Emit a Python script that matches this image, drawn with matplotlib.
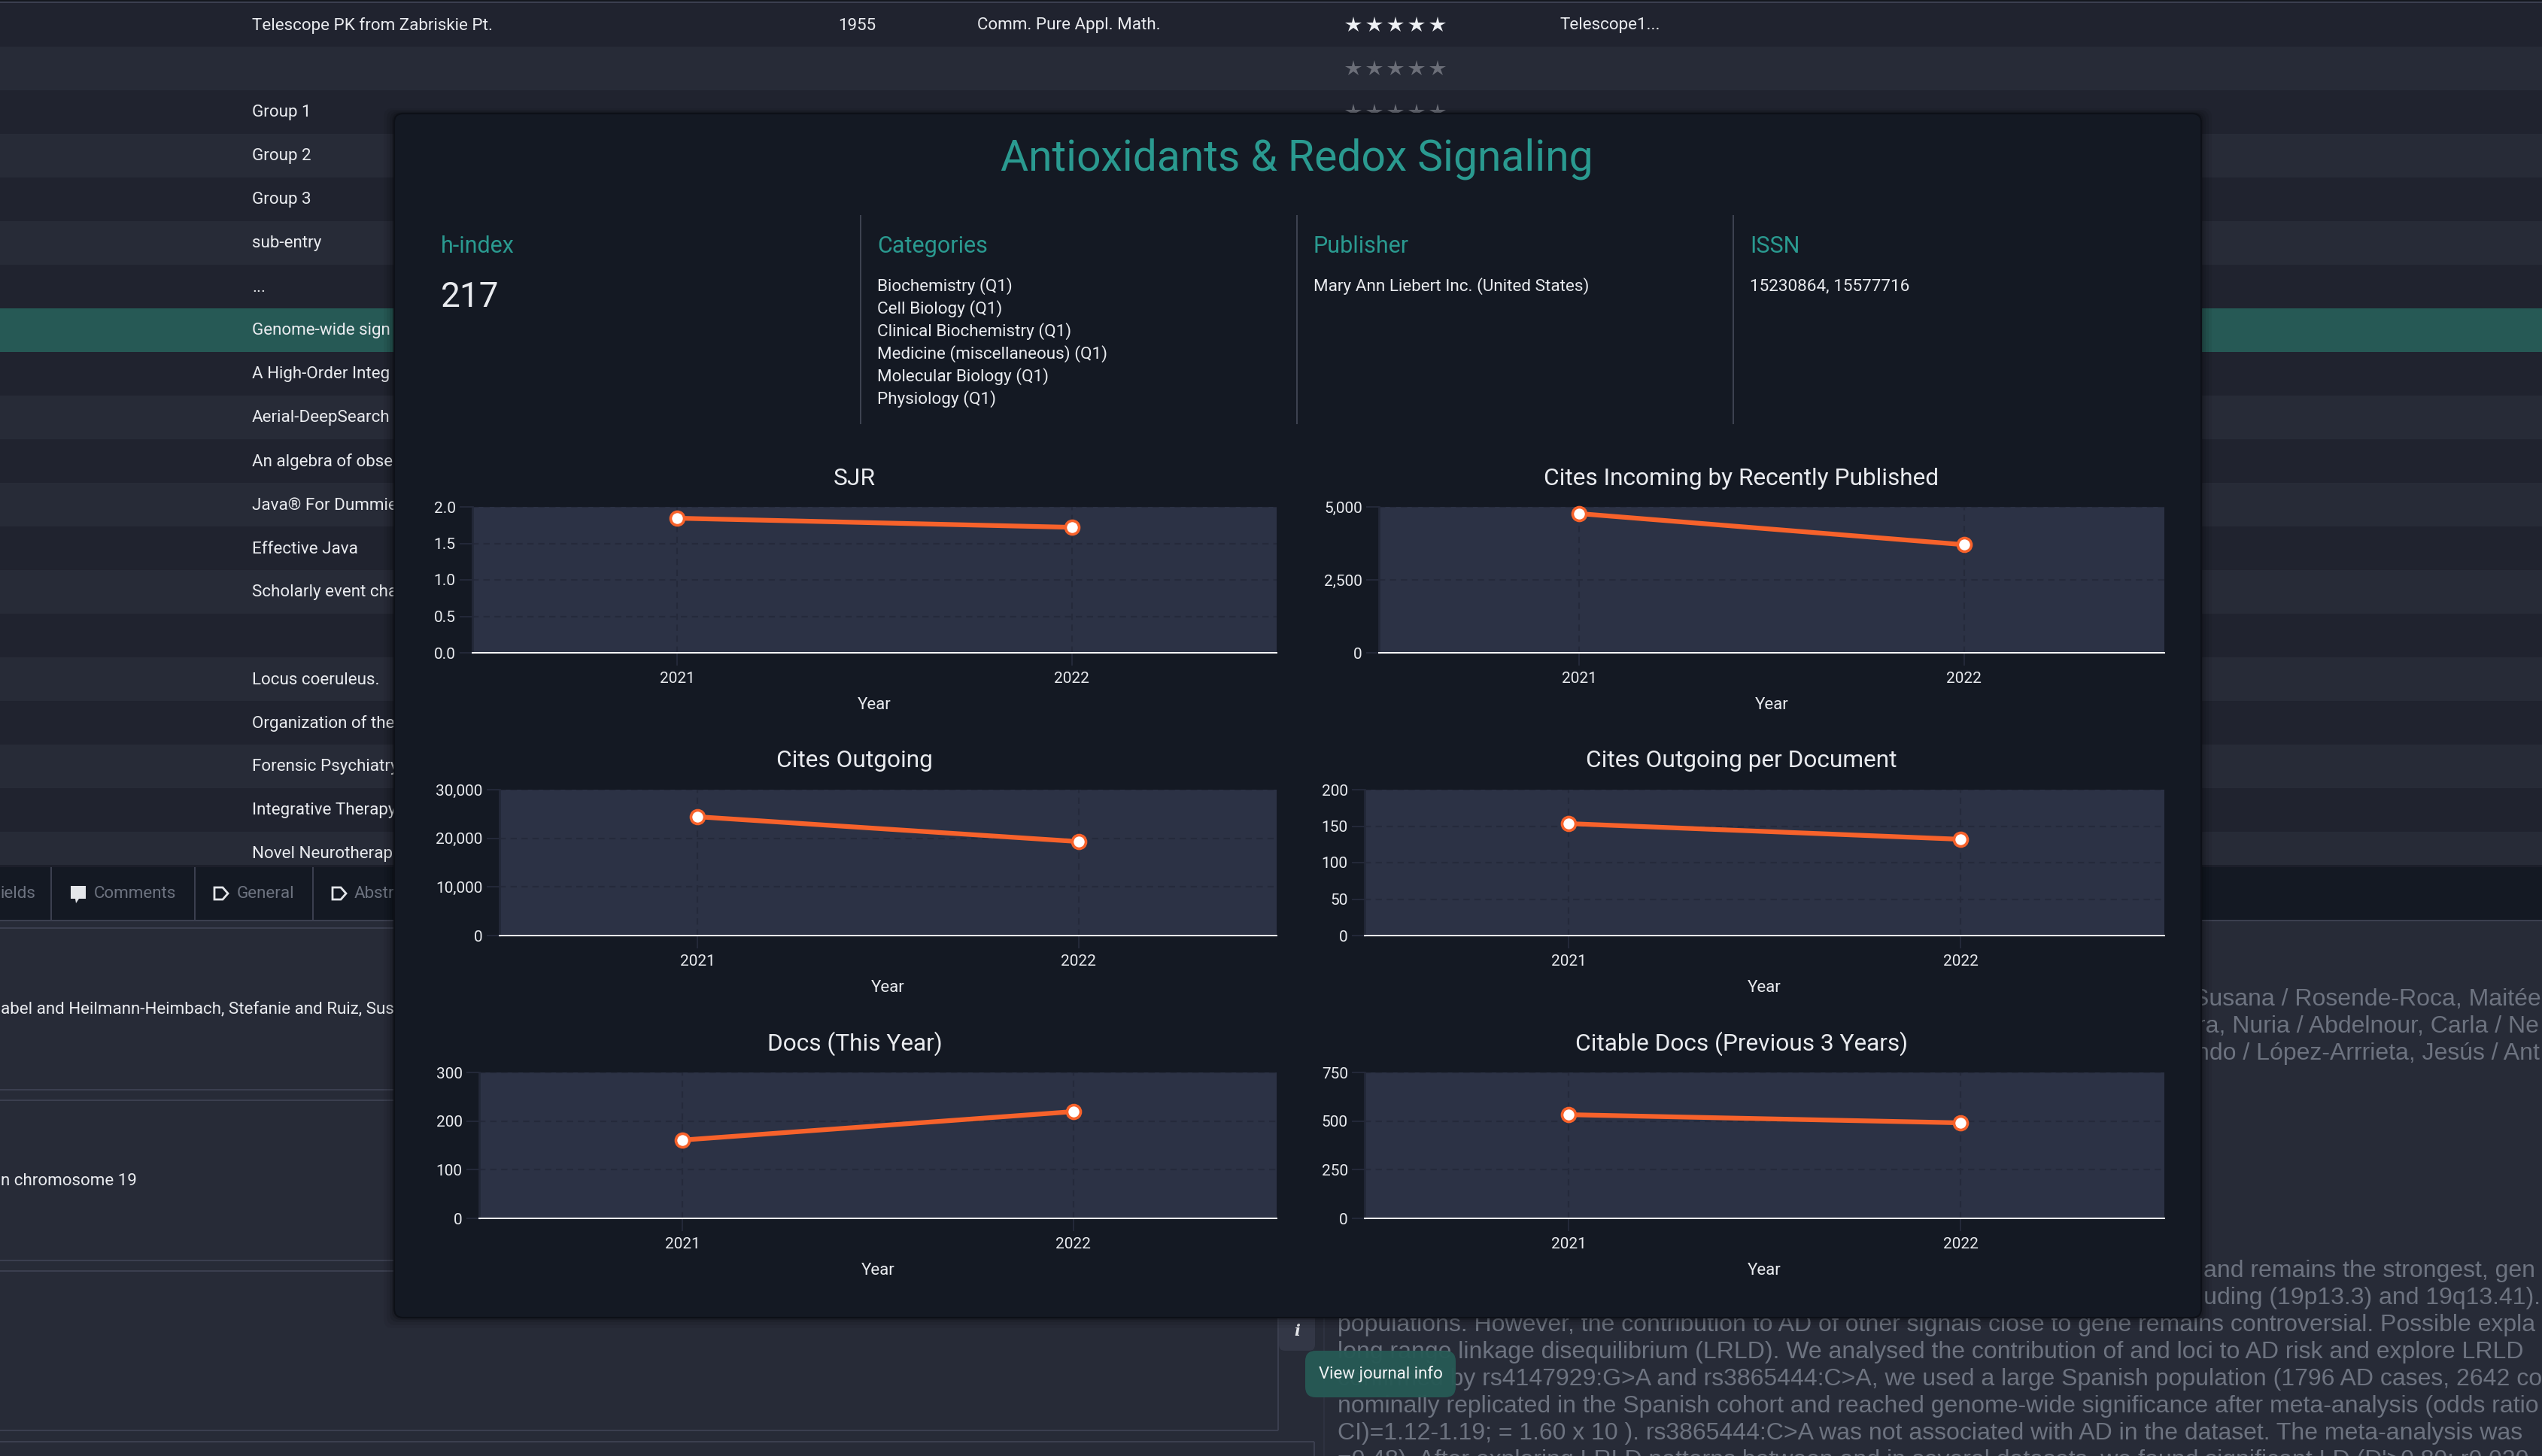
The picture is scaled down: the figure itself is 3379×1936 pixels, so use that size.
import matplotlib
matplotlib.use("Agg")
import matplotlib.pyplot as plt
from matplotlib.patches import Rectangle, FancyBboxPatch, Polygon
from matplotlib.ticker import FuncFormatter

W, H = 3379, 1936
plt.rcParams['font.family'] = ['Roboto', 'DejaVu Sans']

# ---- chart data ----
years = [2021, 2022]
sjr = [1.845, 1.72]
cites_incoming = [4770, 3705]
cites_outgoing = [24430, 19330]
cites_per_doc = [153.5, 132]
docs_this_year = [161, 219.5]
citable_docs = [533, 491]

titles = ["SJR", "Cites Incoming by Recently Published", "Cites Outgoing",
          "Cites Outgoing per Document", "Docs (This Year)", "Citable Docs (Previous 3 Years)"]
series = [sjr, cites_incoming, cites_outgoing, cites_per_doc, docs_this_year, citable_docs]
yticks = [[0, 0.5, 1.0, 1.5, 2.0], [0, 2500, 5000], [0, 10000, 20000, 30000],
          [0, 50, 100, 150, 200], [0, 100, 200, 300], [0, 250, 500, 750]]
tick_fmt = ["{:.1f}", "{:,.0f}", "{:,.0f}", "{:,.0f}", "{:,.0f}", "{:,.0f}"]

journal_title = "Antioxidants & Redox Signaling"
h_index = "217"
categories = ["Biochemistry (Q1)", "Cell Biology (Q1)", "Clinical Biochemistry (Q1)",
              "Medicine (miscellaneous) (Q1)", "Molecular Biology (Q1)", "Physiology (Q1)"]
publisher = "Mary Ann Liebert Inc. (United States)"
issn = "15230864, 15577716"

table_rows = {0: "Telescope PK from Zabriskie Pt.", 2: "Group 1", 3: "Group 2", 4: "Group 3",
              5: "sub-entry", 6: "...", 7: "Genome-wide sign", 8: "A High-Order Integ",
              9: "Aerial-DeepSearch", 10: "An algebra of obse", 11: "Java® For Dummie",
              12: "Effective Java", 13: "Scholarly event cha", 15: "Locus coeruleus.",
              16: "Organization of the", 17: "Forensic Psychiatry", 18: "Integrative Therapy",
              19: "Novel Neurotherap"}
abstract_lines = [
    "populations. However, the contribution to AD of other signals close to gene remains controversial. Possible expla",
    "long range linkage disequilibrium (LRLD). We analysed the contribution of and loci to AD risk and explore LRLD",
    "confirmed by rs4147929:G>A and rs3865444:C>A, we used a large Spanish population (1796 AD cases, 2642 co",
    "nominally replicated in the Spanish cohort and reached genome-wide significance after meta-analysis (odds ratio",
    "CI)=1.12-1.19; = 1.60 x 10 ). rs3865444:C>A was not associated with AD in the dataset. The meta-analysis was",
    "=0.48). After exploring LRLD patterns between and in several datasets, we found significant LD (D'>0.80; r0.020",
]

# ---- colours ----
ROW_A, ROW_B = "#20232f", "#272b37"
PANEL = "#272b37"
DARK = "#141923"
PLOT = "#2c3245"
TEAL = "#2a9a90"
GREEN = "#265955"
ORANGE = "#f7622b"
TXT = "#e9ebef"
GRID = "#252a3b"
DIM = "#6d7380"
LINE = "#3b3f4f"

fig = plt.figure(figsize=(W / 100, H / 100), dpi=100, facecolor=PANEL)
bg = fig.add_axes([0, 0, 1, 1], zorder=0)
bg.set_xlim(0, W)
bg.set_ylim(H, 0)
bg.axis("off")


def rect(x0, y0, x1, y1, c, z=1, **kw):
    bg.add_patch(Rectangle((x0, y0), x1 - x0, y1 - y0, fc=c, ec="none", zorder=z, **kw))


def rrect(x0, y0, x1, y1, r, z=1, **kw):
    bg.add_patch(FancyBboxPatch((x0 + r, y0 + r), x1 - x0 - 2 * r, y1 - y0 - 2 * r,
                                boxstyle=f"round,pad={r},rounding_size={r}", zorder=z, **kw))


def t(x, y, s, size=16.1, c=TXT, ha="left", z=3, **kw):
    bg.text(x, y, s, fontsize=size, color=c, ha=ha, va="center", zorder=z, **kw)


# --- background table ---
rect(0, 0, W, 2, "#14171f")
rect(0, 2, W, 5, LINE)
for n in range(20):
    y0 = 4 + 58 * n
    rect(0, y0, W, min(y0 + 58, 1150), GREEN if n == 7 else (ROW_A if n % 2 == 0 else ROW_B))
for n, s in table_rows.items():
    t(335, 34 + 58 * n, s)
t(1114, 34, "1955")
t(1299, 34, "Comm. Pure Appl. Math.")
t(2073, 34, "Telescope1...")
for row, col in [(0, "#eef0f4"), (1, "#6b6e78"), (2, "#6b6e78")]:
    for sx in (1798.5, 1826.5, 1854.5, 1882.5, 1911):
        bg.plot([sx], [33 + 58 * row], marker="*", ms=16, mfc=col, mec=col, mew=0, ls="", zorder=2)

# --- tab bar ---
rect(0, 1150, W, 1153, "#1c1f2a")
rect(0, 1153, W, 1224, DARK)
rect(0, 1223, W, 1225, LINE)
for x in (68, 259, 416):
    rect(x - 1, 1153, x + 1, 1224, LINE, z=2)
t(0, 1188, "ields", c=DIM)
bg.add_patch(Polygon([(94, 1178), (114, 1178), (114, 1195), (105, 1195), (101, 1201), (100, 1195), (94, 1195)],
                     fc="#e4e6ea", ec="none", zorder=3))
t(125, 1188, "Comments", c=DIM)
for ix in (285, 442):
    bg.add_patch(Polygon([(ix, 1180), (ix + 11, 1180), (ix + 18, 1188), (ix + 11, 1196), (ix, 1196)],
                         fc="none", ec="#e4e6ea", lw=2, zorder=3))
t(315, 1188, "General", c=DIM)
t(471, 1188, "Abstract", c=DIM)

# --- lower left content ---
for y in (1234, 1449, 1463, 1676, 1690, 1902, 1917):
    rect(0, y - 1, 1747 if y == 1917 else 1699, y + 1, LINE, z=2)
rect(1698, 1690, 1700, 1902, LINE, z=2)
t(1, 1342, "abel and Heilmann-Heimbach, Stefanie and Ruiz, Susana")
t(1, 1571, "n chromosome 19")
rect(1759, 1225, 1761, H, "#2e3240", z=2)
rect(1746, 1917, 1748, H, LINE, z=2)
rrect(1700, 1730, 1748, 1796, 8, z=2, fc="#333746", ec="none")
t(1724, 1770, "i", size=15, c="#e4e6ea", ha="center", family="DejaVu Serif", style="italic", weight="bold")

# --- dimmed right-hand text ---
A = dict(size=23, c=DIM, family="Liberation Sans")
t(2915, 1329, "Susana / Rosende-Roca, Maitée", **A)
t(2921, 1365, "ra, Nuria / Abdelnour, Carla / Ne", **A)
t(2919, 1401, "ndo / López-Arrrieta, Jesús / Ant", **A)
t(2929, 1690, "and remains the strongest, gen", **A)
t(2881, 1726, "including (19p13.3) and 19q13.41).", **A)
for i, s in enumerate(abstract_lines):
    t(1778, 1762 + 36 * i, s, **A)

# --- modal ---
for g, a in ((14, .05), (10, .07), (6, .09), (3, .12)):
    rrect(524 - g, 151 - g / 2, 2926 + g, 1752 + g, 12, z=4, fc="black", ec="none", alpha=a)
rrect(524, 151, 2926, 1752, 12, z=5, fc=DARK, ec="#0d1017", lw=1.5)
t(1724, 211, journal_title, size=41, c=TEAL, ha="center", z=6)
for x, s in ((586, "h-index"), (1166, "Categories"), (1746, "Publisher"), (2326, "ISSN")):
    t(x, 327, s, size=22, c=TEAL, z=6)
t(586, 395, h_index, size=33, z=6)
for i, s in enumerate(categories):
    t(1166, 381 + 30 * i, s, size=16.2, z=6)
t(1746, 381, publisher, size=16.2, z=6)
t(2326, 381, issn, size=16.2, z=6)
for x in (1144, 1724, 2304):
    rect(x - 1, 286, x + 1, 564, "#3d4250", z=6)

# --- tooltip ---
rrect(1735, 1796, 1935, 1858, 14, z=7, fc=GREEN, ec="none", alpha=0.96)
t(1835, 1827, "View journal info", size=16, ha="center", z=8, c="#f1f3f5")

# --- charts: left, right, top, bottom (pixels) ---
boxes = [(628, 1697, 674, 868), (1833, 2877, 674, 868),
         (664, 1697, 1050, 1244), (1814, 2877, 1050, 1244),
         (637, 1697, 1426, 1620), (1814, 2877, 1426, 1620)]
title_x = [1136, 2315] * 3
PAD = 0.52

for i, (l, r, tp, b) in enumerate(boxes):
    ax = fig.add_axes([l / W, 1 - b / H, (r - l) / W, (b - tp) / H], zorder=2, facecolor=PLOT)
    ax.set_xlim(years[0] - PAD, years[1] + PAD)
    ax.set_ylim(yticks[i][0], yticks[i][-1])
    ax.set_xticks(years)
    ax.set_xticklabels([str(y) for y in years])
    ax.set_yticks(yticks[i])
    fmt = tick_fmt[i]
    ax.yaxis.set_major_formatter(FuncFormatter(lambda v, _, f=fmt: f.format(v)))
    for s in ("top", "right"):
        ax.spines[s].set_visible(False)
    ax.spines["left"].set_color("#232838")
    ax.spines["left"].set_linewidth(2)
    ax.spines["bottom"].set_color("white")
    ax.spines["bottom"].set_linewidth(1.4)
    ax.grid(True, color=GRID, ls=(0, (4, 3)), lw=1.5)
    ax.set_axisbelow(True)
    ax.tick_params(axis="both", length=12, width=1.5, color="#232838", labelcolor=TXT, labelsize=15, pad=4)
    ax.tick_params(axis="x", pad=6)
    ax.plot(years, series[i], color=ORANGE, lw=4.5, marker="o", ms=13, mfc="white",
            mec=ORANGE, mew=2.6, clip_on=False, zorder=5, solid_capstyle="round")
    ax.set_xlabel("Year", fontsize=16, color=TXT, labelpad=11)
    fig.text(title_x[i] / W, 1 - (tp - 38) / H, titles[i], fontsize=22.8, color=TXT,
             ha="center", va="center", zorder=3)

fig.savefig("out.png", dpi=100, facecolor=PANEL)
